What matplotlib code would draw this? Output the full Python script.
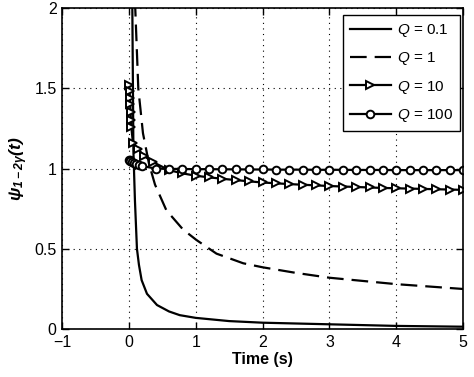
import matplotlib
matplotlib.use('Agg')
import matplotlib.pyplot as plt

plt.rcParams['font.family'] = ['Liberation Sans', 'DejaVu Sans']
plt.rcParams['mathtext.fontset'] = 'custom'
plt.rcParams['mathtext.it'] = 'Liberation Sans:italic'
plt.rcParams['mathtext.rm'] = 'Liberation Sans'
plt.rcParams['mathtext.bfit'] = 'Liberation Sans:italic:bold'

# Q = 0.1 (solid)
t_q01 = [0.05, 0.06, 0.067, 0.09, 0.12, 0.15, 0.19, 0.27, 0.42, 0.6, 0.76, 1.0,
         1.5, 2.0, 3.0, 4.0, 5.0]
y_q01 = [2.05, 1.5, 1.11, 0.8, 0.5, 0.4, 0.305, 0.22, 0.15, 0.11, 0.087, 0.07,
         0.05, 0.04, 0.03, 0.02, 0.015]

# Q = 1 (dashed)
t_q1 = [0.09, 0.14, 0.21, 0.3, 0.39, 0.56, 0.81, 1.01, 1.31, 1.71, 2.0, 2.5, 3.0, 3.5, 4.0, 4.5, 5.0]
y_q1 = [2.05, 1.5, 1.22, 1.03, 0.9, 0.74, 0.62, 0.555, 0.47, 0.41, 0.385, 0.35, 0.32, 0.3, 0.28, 0.265, 0.25]

# Q = 10 (triangles)
t_q10 = [0.005, 0.01, 0.015, 0.02, 0.025, 0.03, 0.035, 0.06, 0.14, 0.22, 0.36, 0.6, 0.8, 1.0,
         1.2, 1.4, 1.6, 1.8, 2.0, 2.2, 2.4, 2.6, 2.8, 3.0, 3.2, 3.4, 3.6, 3.8, 4.0,
         4.2, 4.4, 4.6, 4.8, 5.0]
y_q10 = [1.52, 1.48, 1.44, 1.4, 1.35, 1.3, 1.26, 1.16, 1.12, 1.08, 1.04, 0.99, 0.97, 0.955,
         0.945, 0.936, 0.928, 0.92, 0.913, 0.908, 0.903, 0.899, 0.895, 0.891, 0.888, 0.885,
         0.882, 0.879, 0.877, 0.875, 0.873, 0.871, 0.869, 0.867]

# Q = 100 (circles)
t_q100 = [0.005, 0.01, 0.02, 0.04, 0.07, 0.1, 0.15, 0.2, 0.4, 0.6, 0.8, 1.0,
          1.2, 1.4, 1.6, 1.8, 2.0, 2.2, 2.4, 2.6, 2.8, 3.0, 3.2, 3.4, 3.6, 3.8, 4.0,
          4.2, 4.4, 4.6, 4.8, 5.0]
y_q100 = [1.05, 1.05, 1.045, 1.04, 1.035, 1.03, 1.02, 1.015, 1.0, 0.998, 0.997, 0.996,
          0.996, 0.995, 0.995, 0.994, 0.994, 0.993, 0.993, 0.993, 0.992, 0.992, 0.992,
          0.991, 0.991, 0.991, 0.99, 0.99, 0.99, 0.99, 0.99, 0.99]

labels = [r'$Q$ = 0.1', r'$Q$ = 1', r'$Q$ = 10', r'$Q$ = 100']

fig = plt.figure(figsize=(4.74, 3.77), dpi=100)
ax = fig.add_axes([0.131, 0.127, 0.846, 0.852])

ax.plot(t_q01, y_q01, color='black', lw=1.6, label=labels[0])
ax.plot(t_q1, y_q1, color='black', lw=1.6, linestyle=(0, (7.5, 3.6)), label=labels[1])
ax.plot(t_q10, y_q10, color='black', lw=1.6, marker='>', markersize=6,
        markerfacecolor='white', markeredgecolor='black', markeredgewidth=1.4, label=labels[2])
ax.plot(t_q100, y_q100, color='black', lw=1.6, marker='o', markersize=5.5,
        markerfacecolor='white', markeredgecolor='black', markeredgewidth=1.4, label=labels[3])

ax.set_xlim(-1, 5)
ax.set_ylim(0, 2)
ax.set_xticks([-1, 0, 1, 2, 3, 4, 5])
ax.set_yticks([0, 0.5, 1, 1.5, 2])
ax.set_yticklabels(['0', '0.5', '1', '1.5', '2'])
ax.grid(True, color='black', linestyle=(0, (1, 4)), linewidth=0.8)
ax.tick_params(direction='in', top=True, right=True, labelsize=11.5, length=5, width=1, pad=4)
for s in ax.spines.values():
    s.set_linewidth(1.2)

ax.set_xlabel('Time (s)', fontsize=11.5, fontweight='bold', labelpad=2)
ax.set_ylabel(r'$\mathbfit{\psi_{1-2\gamma}(t)}$', fontsize=12.5, labelpad=3)

leg = ax.legend(loc='upper right', bbox_to_anchor=(0.9925, 0.978), borderaxespad=0,
                fontsize=11, handlelength=2.7, labelspacing=0.75, numpoints=1,
                fancybox=False, framealpha=1, edgecolor='black', borderpad=0.45,
                handletextpad=0.4)
leg.get_frame().set_linewidth(1.0)

fig.savefig('out.png', dpi=100)
